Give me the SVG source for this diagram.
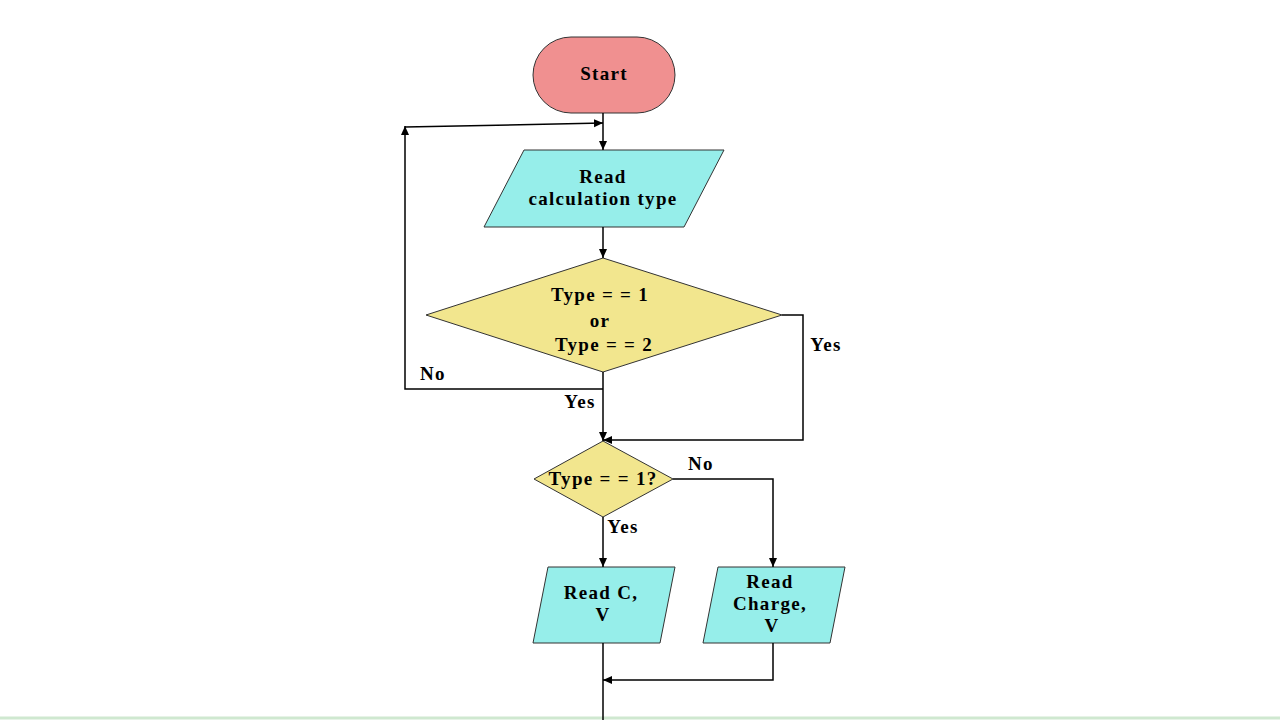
<svg xmlns="http://www.w3.org/2000/svg" width="1280" height="720" viewBox="0 0 1280 720">
<defs>
<marker id="ah" markerWidth="10" markerHeight="10" refX="9" refY="5" orient="auto" markerUnits="userSpaceOnUse"><path d="M0,1 L9,5 L0,9 z" fill="#000"/></marker>
<style>
.t{font-family:"Liberation Serif",serif;font-weight:bold;font-size:19px;letter-spacing:1.3px;fill:#000;text-anchor:middle}
.io{fill:#96eeea;stroke:#333;stroke-width:1}
.dec{fill:#f2e68e;stroke:#333;stroke-width:1}
.c{fill:none;stroke:#000;stroke-width:1.5}
</style>
</defs>
<rect width="1280" height="720" fill="#fff"/>
<line x1="0" y1="718" x2="1280" y2="718" stroke="#cfe8d0" stroke-width="3"/>
<g id="start"><rect x="533" y="37" width="142" height="76" rx="38" fill="#f09090" stroke="#333"/><text class="t" x="604" y="80">Start</text></g>
<g id="read-type"><polygon class="io" points="524,150 724,150 684,227 484,227"/><text class="t" x="603" y="183">Read</text><text class="t" x="603" y="205">calculation type</text></g>
<g id="dec1"><polygon class="dec" points="603,258 782,315 603,372 426,315"/><text class="t" x="600" y="301">Type  = = 1</text><text class="t" x="600" y="327">or</text><text class="t" x="604" y="351">Type = = 2</text></g>
<g id="dec2"><polygon class="dec" points="603,441 673,479 603,517 534,479"/><text class="t" x="603" y="485">Type = = 1?</text></g>
<g id="read-cv"><polygon class="io" points="548,567 675,567 660,643 533,643"/><text class="t" x="601" y="599">Read C,</text><text class="t" x="603" y="621">V</text></g>
<g id="read-charge"><polygon class="io" points="718,567 845,567 830,643 703,643"/><text class="t" x="770" y="588">Read</text><text class="t" x="770" y="610">Charge,</text><text class="t" x="772" y="632">V</text></g>
<g id="connectors">
<path class="c" d="M603,113 V150" marker-end="url(#ah)"/>
<path class="c" d="M603,227 V258" marker-end="url(#ah)"/>
<path class="c" d="M603,372 V441" marker-end="url(#ah)"/>
<path class="c" d="M603,389 H405 V126" marker-end="url(#ah)"/>
<path class="c" d="M405,127 L603,123" marker-end="url(#ah)"/>
<path class="c" d="M782,315 H803 V440 H603" marker-end="url(#ah)"/>
<path class="c" d="M673,479 H773 V567" marker-end="url(#ah)"/>
<path class="c" d="M603,517 V567" marker-end="url(#ah)"/>
<path class="c" d="M603,643 V720"/>
<path class="c" d="M773,643 V680 H603" marker-end="url(#ah)"/>
<text class="t" x="433" y="380">No</text>
<text class="t" x="580" y="408">Yes</text>
<text class="t" x="826" y="351">Yes</text>
<text class="t" x="701" y="470">No</text>
<text class="t" x="623" y="533">Yes</text>
</g>
</svg>
